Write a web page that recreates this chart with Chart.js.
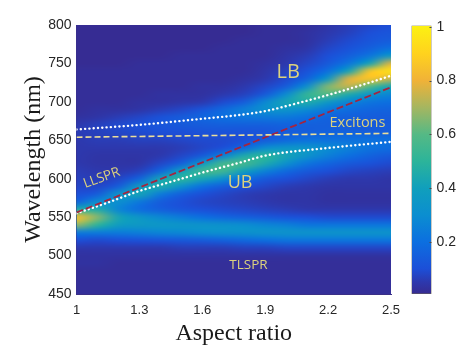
<!DOCTYPE html>
<html>
<head>
<meta charset="utf-8">
<script src="https://cdn.jsdelivr.net/npm/chart.js@4"></script>
<style>
  html, body { margin: 0; padding: 0; background: #fff; }
  #wrap { position: relative; width: 474px; height: 353px; overflow: hidden; }
  canvas { position: absolute; }
</style>
</head>
<body>
<div id="wrap">
  <canvas id="mapChart" width="474" height="353" style="left:0;top:0"></canvas>
  <canvas id="barChart" width="74" height="353" style="left:400px;top:0"></canvas>
</div>
<script>
// grid of the map
const aspectRatios = [1, 1.1, 1.2, 1.3, 1.4, 1.5, 1.6, 1.7, 1.8, 1.9, 2, 2.1, 2.2, 2.3, 2.4, 2.5];
const wavelengths = [450, 460, 470, 480, 490, 500, 510, 520, 530, 540, 550, 560, 570, 580, 590, 600, 610, 620,
  630, 640, 650, 660, 670, 680, 690, 700, 710, 720, 730, 740, 750, 760, 770, 780, 790, 800];

// one list per aspect ratio, 450 nm first
const intensity = [
  [.02,.02,.02,.02,.03,.03,.05,.10,.24,.68,.84,.46,.16,.10,.08,.07,.06,.05,.05,.05,.05,.06,.05,.03,.02,.02,.02,.02,.02,.02,.01,.01,.01,.01,.01,.01],
  [.02,.02,.02,.02,.03,.03,.05,.09,.24,.50,.66,.46,.30,.14,.08,.06,.05,.04,.04,.05,.06,.07,.07,.04,.03,.02,.02,.02,.02,.02,.01,.01,.01,.01,.01,.01],
  [.02,.02,.02,.02,.02,.03,.05,.10,.24,.38,.42,.27,.31,.34,.14,.08,.05,.04,.04,.05,.06,.08,.09,.06,.03,.02,.02,.02,.02,.02,.01,.01,.01,.01,.01,.01],
  [.02,.02,.02,.02,.02,.03,.05,.11,.25,.36,.34,.19,.23,.42,.38,.16,.07,.04,.04,.05,.07,.09,.11,.08,.04,.03,.02,.02,.02,.02,.02,.01,.01,.01,.01,.01],
  [.02,.02,.02,.02,.02,.03,.05,.12,.27,.35,.28,.15,.14,.24,.45,.42,.17,.08,.05,.05,.07,.10,.12,.11,.06,.03,.03,.02,.02,.02,.02,.01,.01,.01,.01,.01],
  [.02,.02,.02,.02,.02,.03,.06,.13,.28,.34,.24,.12,.10,.15,.32,.50,.40,.15,.08,.06,.08,.10,.13,.14,.08,.04,.03,.02,.02,.02,.02,.02,.01,.01,.01,.01],
  [.02,.02,.02,.02,.02,.03,.06,.14,.30,.33,.20,.10,.08,.10,.20,.43,.55,.35,.13,.08,.09,.11,.14,.17,.12,.05,.03,.03,.02,.02,.02,.02,.01,.01,.01,.01],
  [.02,.02,.02,.02,.02,.03,.06,.16,.31,.32,.17,.09,.07,.08,.14,.31,.55,.56,.26,.10,.09,.11,.15,.20,.18,.09,.05,.03,.02,.02,.02,.02,.02,.01,.01,.01],
  [.02,.02,.02,.02,.02,.03,.07,.18,.32,.30,.15,.08,.06,.06,.10,.20,.40,.56,.45,.18,.10,.11,.15,.22,.25,.14,.07,.05,.03,.02,.02,.02,.02,.02,.01,.01],
  [.02,.02,.02,.02,.02,.03,.07,.20,.33,.27,.13,.07,.05,.05,.08,.13,.26,.45,.50,.30,.14,.12,.15,.23,.32,.28,.13,.08,.05,.04,.03,.02,.02,.02,.02,.02],
  [.02,.02,.02,.02,.02,.03,.08,.22,.33,.25,.11,.06,.04,.04,.06,.10,.18,.32,.42,.34,.18,.14,.16,.23,.34,.42,.29,.14,.09,.07,.05,.04,.03,.02,.02,.02],
  [.02,.02,.02,.02,.02,.03,.08,.22,.33,.22,.10,.05,.04,.04,.05,.08,.13,.22,.33,.34,.21,.15,.15,.20,.29,.46,.52,.31,.16,.11,.08,.06,.04,.03,.03,.02],
  [.02,.02,.02,.02,.02,.03,.08,.22,.33,.22,.09,.05,.03,.03,.04,.06,.10,.17,.25,.29,.21,.16,.15,.16,.23,.36,.60,.66,.36,.20,.13,.10,.08,.06,.05,.04],
  [.02,.02,.02,.02,.02,.03,.08,.22,.33,.22,.09,.05,.03,.03,.04,.05,.08,.13,.20,.25,.21,.16,.14,.15,.19,.27,.45,.74,.78,.42,.22,.15,.11,.09,.07,.06],
  [.02,.02,.02,.02,.02,.03,.08,.22,.33,.22,.09,.05,.03,.03,.04,.05,.07,.11,.16,.21,.21,.15,.13,.14,.17,.22,.34,.58,.86,.86,.42,.22,.15,.12,.10,.08],
  [.02,.02,.02,.02,.02,.03,.08,.22,.33,.22,.09,.05,.03,.03,.04,.04,.06,.09,.13,.19,.20,.15,.14,.14,.16,.20,.27,.42,.74,.95,.78,.36,.20,.14,.12,.10]
];

// traced lines
const upperX = [1, 1.3, 1.6, 1.78, 1.9, 2.05, 2.2, 2.35, 2.5];
const upperBranch = [664, 670, 678, 683, 688, 698, 709, 721, 734];
const lowerX = [1, 1.15, 1.3, 1.45, 1.6, 1.78, 1.9, 2.2, 2.5];
const lowerBranch = [555, 569, 584, 596, 608, 621, 630, 640, 648];
const excitonX = [1, 2.5];
const excitonLine = [654, 659];
const plasmonX = [1, 2.5];
const plasmonLine = [556, 719];

const xTicks = [1, 1.3, 1.6, 1.9, 2.2, 2.5];
const yTicks = [450, 500, 550, 600, 650, 700, 750, 800];
const barTicks = [0.2, 0.4, 0.6, 0.8, 1];

const colorStops = [
  [0, '#38298c'], [0.05, '#2d38ad'], [0.1, '#1c4fd8'], [0.2, '#0c6fe0'], [0.3, '#0b8ed0'], [0.4, '#109fbc'], [0.5, '#2cb49a'],
  [0.6, '#55b985'], [0.7, '#a5b660'], [0.8, '#f0b238'], [0.9, '#ffd21e'], [1, '#fcf012']
];

const labelNames = ['LB', 'Excitons', 'UB', 'TLSPR', 'LLSPR'];
const labelX = [2.01, 2.34, 1.78, 1.82, 1.12];
const labelY = [739, 673, 595, 488, 601];
const labelSize = [20, 14.5, 18, 13.5, 13.5];
const labelAngle = [0, 0, 0, 0, -20];

function hexToRgb(hex) {
  return [1, 3, 5].map(i => parseInt(hex.slice(i, i + 2), 16));
}

function colorFor(v) {
  for (let i = 1; i < colorStops.length; i++) {
    if (v <= colorStops[i][0]) {
      const [v0, c0] = colorStops[i - 1];
      const [v1, c1] = colorStops[i];
      const t = (v - v0) / (v1 - v0);
      const a = hexToRgb(c0), b = hexToRgb(c1);
      return a.map((n, k) => Math.round(n + (b[k] - n) * t));
    }
  }
  return hexToRgb(colorStops[colorStops.length - 1][1]);
}

const heatPoints = [];
aspectRatios.forEach((x, i) => {
  wavelengths.forEach((y, j) => {
    heatPoints.push({ x: x, y: y, v: intensity[i][j] });
  });
});

function toPoints(xs, ys) {
  return xs.map((x, i) => ({ x: x, y: ys[i] }));
}

// paints the heat dataset as a smoothed image, placed through the scales
const heatPlugin = {
  id: 'heat',
  beforeDatasetsDraw(chart) {
    const { ctx, chartArea, scales } = chart;
    const nx = aspectRatios.length, ny = wavelengths.length;
    const off = document.createElement('canvas');
    off.width = nx;
    off.height = ny;
    const offCtx = off.getContext('2d');
    const img = offCtx.createImageData(nx, ny);
    chart.data.datasets[0].data.forEach(p => {
      const i = aspectRatios.indexOf(p.x);
      const j = ny - 1 - wavelengths.indexOf(p.y);
      const c = colorFor(p.v);
      const k = (j * nx + i) * 4;
      img.data[k] = c[0];
      img.data[k + 1] = c[1];
      img.data[k + 2] = c[2];
      img.data[k + 3] = 255;
    });
    offCtx.putImageData(img, 0, 0);

    const dx = aspectRatios[1] - aspectRatios[0];
    const dy = wavelengths[1] - wavelengths[0];
    const left = scales.x.getPixelForValue(aspectRatios[0] - dx / 2);
    const right = scales.x.getPixelForValue(aspectRatios[nx - 1] + dx / 2);
    const top = scales.y.getPixelForValue(wavelengths[ny - 1] + dy / 2);
    const bottom = scales.y.getPixelForValue(wavelengths[0] - dy / 2);

    ctx.save();
    ctx.beginPath();
    ctx.rect(chartArea.left, chartArea.top, chartArea.right - chartArea.left, chartArea.bottom - chartArea.top);
    ctx.clip();
    ctx.imageSmoothingEnabled = true;
    ctx.imageSmoothingQuality = 'high';
    ctx.drawImage(off, left, top, right - left, bottom - top);
    ctx.restore();
  }
};

const labelPlugin = {
  id: 'bandLabels',
  afterDatasetsDraw(chart) {
    const { ctx, scales } = chart;
    ctx.save();
    ctx.fillStyle = '#dcd27e';
    ctx.textAlign = 'center';
    ctx.textBaseline = 'middle';
    labelNames.forEach((name, i) => {
      ctx.save();
      ctx.translate(scales.x.getPixelForValue(labelX[i]), scales.y.getPixelForValue(labelY[i]));
      ctx.rotate(labelAngle[i] * Math.PI / 180);
      ctx.font = labelSize[i] + 'px "Open Sans"';
      ctx.fillText(name, 0, 0);
      ctx.restore();
    });
    ctx.restore();
  }
};

// small inward marks on the colour bar
const barTickPlugin = {
  id: 'barTicks',
  afterDatasetsDraw(chart) {
    const { ctx, chartArea, scales } = chart;
    ctx.save();
    ctx.strokeStyle = '#4a4a4a';
    ctx.lineWidth = 1;
    barTicks.forEach(v => {
      const y = Math.round(scales.y.getPixelForValue(v)) + 0.5;
      ctx.beginPath();
      ctx.moveTo(chartArea.right - 2, y);
      ctx.lineTo(chartArea.right, y);
      ctx.stroke();
    });
    ctx.restore();
  }
};

const tickColor = '#262626';

new Chart(document.getElementById('mapChart'), {
  type: 'scatter',
  data: {
    datasets: [
      { label: 'Intensity', data: heatPoints, pointRadius: 0, showLine: false },
      { label: 'Excitons', data: toPoints(excitonX, excitonLine), showLine: true, pointRadius: 0, borderColor: '#ecdf9a', borderWidth: 1.6, borderDash: [6, 3] },
      { label: 'LSPR', data: toPoints(plasmonX, plasmonLine), showLine: true, pointRadius: 0, borderColor: '#a5243f', borderWidth: 1.8, borderDash: [7, 3] },
      { label: 'LB', data: toPoints(upperX, upperBranch), showLine: true, cubicInterpolationMode: 'monotone', pointRadius: 0, borderColor: '#ffffff', borderWidth: 2.4, borderDash: [0.1, 4.2], borderCapStyle: 'round' },
      { label: 'UB', data: toPoints(lowerX, lowerBranch), showLine: true, cubicInterpolationMode: 'monotone', pointRadius: 0, borderColor: '#ffffff', borderWidth: 2.4, borderDash: [0.1, 4.2], borderCapStyle: 'round' }
    ]
  },
  options: {
    responsive: false,
    animation: false,
    layout: { padding: { left: 0, right: 83, top: 25, bottom: 0 } },
    plugins: { legend: { display: false }, tooltip: { enabled: false } },
    scales: {
      x: {
        type: 'linear',
        min: 1,
        max: 2.5,
        afterFit: scale => { scale.height = 59; },
        afterBuildTicks: scale => { scale.ticks = xTicks.map(v => ({ value: v })); },
        grid: { display: false, drawTicks: false },
        border: { color: '#3a2f86' },
        ticks: { color: tickColor, font: { family: 'Liberation Sans', size: 13 }, padding: 9, maxRotation: 0, callback: v => String(v) },
        title: { display: true, text: 'Aspect ratio', color: '#1a1a1a', font: { family: 'Liberation Serif', size: 24 }, padding: { top: 1, bottom: 5 } }
      },
      y: {
        type: 'linear',
        min: 450,
        max: 800,
        afterFit: scale => { scale.width = 76.5; },
        afterBuildTicks: scale => { scale.ticks = yTicks.map(v => ({ value: v })); },
        grid: { display: false, drawTicks: false },
        border: { color: '#3a2f86' },
        ticks: { color: tickColor, font: { family: 'Liberation Sans', size: 14 }, padding: 5 },
        title: { display: true, text: 'Wavelength (nm)', color: '#1a1a1a', font: { family: 'Liberation Serif', size: 24 }, padding: { top: 19, bottom: 0 } }
      }
    }
  },
  plugins: [heatPlugin, labelPlugin]
});

// colour bar, a single floating bar with the colormap as a gradient
const barRange = [0.006, 1.005];

new Chart(document.getElementById('barChart'), {
  type: 'bar',
  data: {
    labels: [''],
    datasets: [{
      data: [barRange],
      barPercentage: 1,
      categoryPercentage: 1,
      borderColor: '#6f6a55',
      borderWidth: 0.8,
      borderSkipped: false,
      backgroundColor: ctx => {
        const { chart } = ctx;
        if (!chart.chartArea) return '#38298c';
        const yScale = chart.scales.y;
        const g = chart.ctx.createLinearGradient(0, yScale.getPixelForValue(0), 0, yScale.getPixelForValue(1));
        colorStops.forEach(([v, c]) => g.addColorStop(v, c));
        return g;
      }
    }]
  },
  options: {
    responsive: false,
    animation: false,
    layout: { padding: { left: 11.5, right: 0, top: 25.5, bottom: 59 } },
    plugins: { legend: { display: false }, tooltip: { enabled: false } },
    scales: {
      x: { display: false },
      y: {
        position: 'right',
        min: barRange[0],
        max: barRange[1],
        afterFit: scale => { scale.width = 42.5; },
        afterBuildTicks: scale => { scale.ticks = barTicks.map(v => ({ value: v })); },
        grid: { display: false, drawTicks: false },
        border: { display: false },
        ticks: { color: tickColor, font: { family: 'Liberation Sans', size: 14 }, padding: 5, callback: v => String(v) }
      }
    }
  },
  plugins: [barTickPlugin]
});
</script>
</body>
</html>
